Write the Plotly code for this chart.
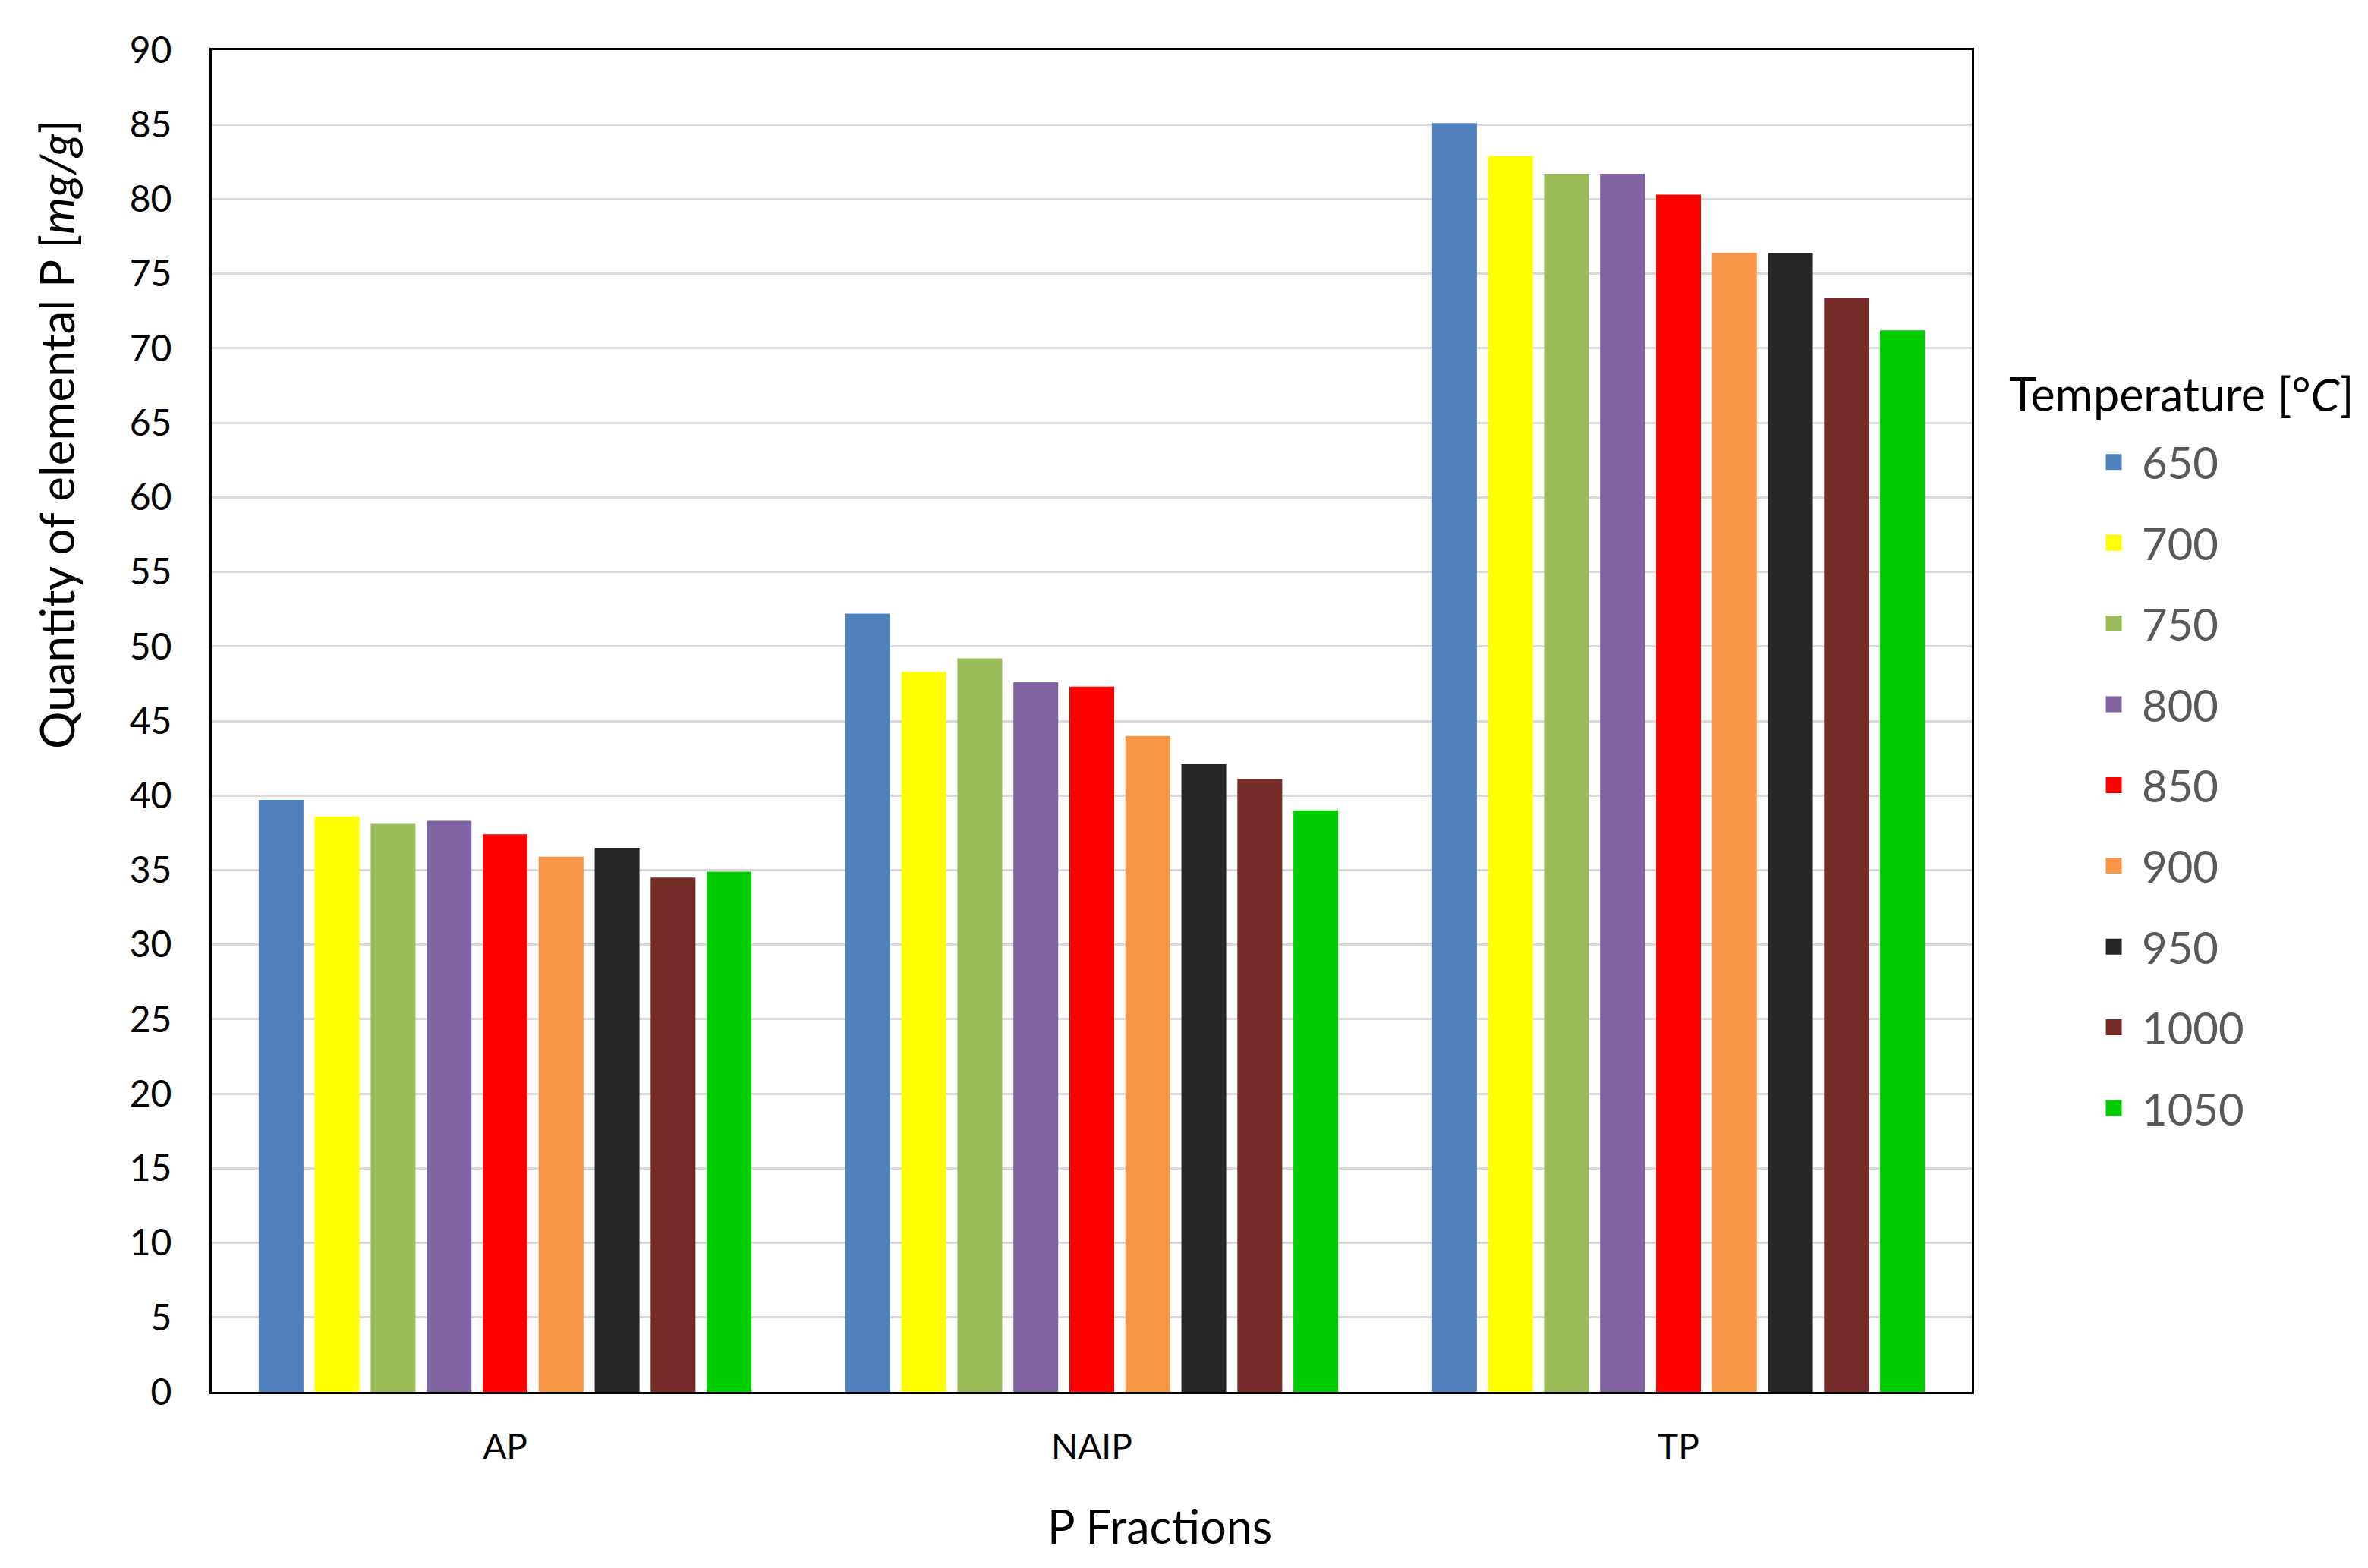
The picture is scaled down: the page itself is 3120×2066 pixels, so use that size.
import plotly.graph_objects as go

categories = ["AP", "NAIP", "TP"]
temperatures = ["650", "700", "750", "800", "850", "900", "950", "1000", "1050"]
ap_values = [39.7, 38.6, 38.1, 38.3, 37.4, 35.9, 36.5, 34.5, 34.9]
naip_values = [52.2, 48.3, 49.2, 47.6, 47.3, 44.0, 42.1, 41.1, 39.0]
tp_values = [85.1, 82.9, 81.7, 81.7, 80.3, 76.4, 76.4, 73.4, 71.2]
colors = ["#4F81BD", "#FFFF00", "#9BBB59", "#8064A2", "#FF0000",
          "#F79646", "#262626", "#772C2A", "#00CC00"]
y_ticks = list(range(0, 95, 5))

FONT = "Lato"

fig = go.Figure()
for i, t in enumerate(temperatures):
    fig.add_trace(go.Bar(
        x=categories,
        y=[ap_values[i], naip_values[i], tp_values[i]],
        name=t,
        marker=dict(color=colors[i], line=dict(width=0)),
        legendgroup=t,
        showlegend=False,
    ))
for i, t in enumerate(temperatures):
    fig.add_trace(go.Scatter(
        x=[None], y=[None],
        mode="markers",
        name=t,
        legendgroup=t,
        marker=dict(symbol="square", size=16, color=colors[i],
                    line=dict(color=colors[i], width=5)),
        showlegend=True,
        hoverinfo="skip",
    ))

fig.update_layout(
    width=3120,
    height=2066,
    margin=dict(l=279, r=522, t=66, b=232),
    paper_bgcolor="white",
    plot_bgcolor="white",
    barmode="group",
    bargap=0.141,
    bargroupgap=0.2,
    font=dict(family=FONT, color="#000000", size=48),
    showlegend=True,
    legend=dict(
        x=1.0647, xanchor="left",
        y=0.718, yanchor="top",
        font=dict(family=FONT, size=58, color="#595959"),
        traceorder="grouped",
        tracegroupgap=28,
        itemwidth=64,
        bgcolor="rgba(0,0,0,0)",
    ),
    annotations=[
        dict(text="Temperature [°<i>C</i>]", xref="paper", yref="paper",
             x=1.0203, y=0.7443, xanchor="left", yanchor="middle",
             showarrow=False, font=dict(family=FONT, size=61, color="#000000")),
        dict(text="Quantity of elemental P [<i>mg/g</i>]", xref="paper", yref="paper",
             x=-0.0884, y=0.7138, xanchor="center", yanchor="middle", textangle=-90,
             showarrow=False, font=dict(family=FONT, size=62, color="#000000")),
        dict(text="P Fractions", xref="paper", yref="paper",
             x=0.5386, y=-0.1000, xanchor="center", yanchor="middle",
             showarrow=False, font=dict(family=FONT, size=61, color="#000000")),
    ],
)

fig.update_xaxes(
    type="category",
    showline=True, linecolor="#000000", linewidth=3, mirror=True,
    showgrid=False, ticks="", ticklabelstandoff=30,
    tickfont=dict(family=FONT, size=46, color="#000000"),
)
fig.update_yaxes(
    range=[0, 90],
    tickvals=y_ticks,
    showline=True, linecolor="#000000", linewidth=3, mirror=True,
    showgrid=True, gridcolor="#D9D9D9", gridwidth=3,
    zeroline=False, ticks="", ticklabelstandoff=40,
    tickfont=dict(family=FONT, size=48, color="#000000"),
)

fig.write_html("out.html", config={"displayModeBar": False},
               post_script="document.body.style.margin='0';")
